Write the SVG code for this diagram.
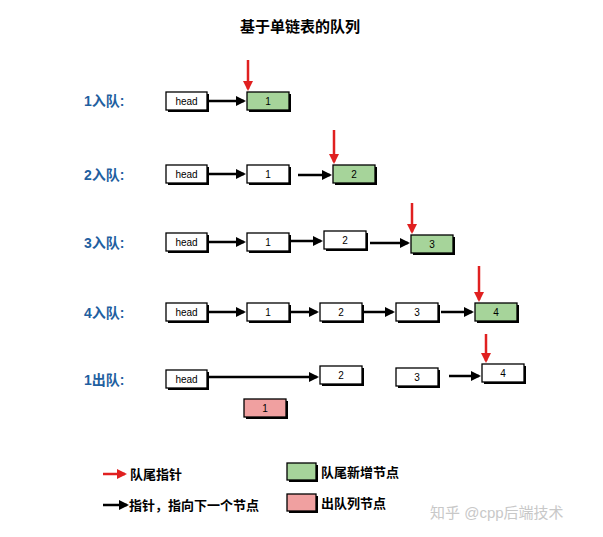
<svg xmlns="http://www.w3.org/2000/svg" width="603" height="537" viewBox="0 0 603 537">
<style>
.t{font-family:"Liberation Sans","Noto Sans CJK SC",sans-serif}
.lbl{font-family:"Liberation Sans","Noto Sans CJK SC",sans-serif;font-weight:bold;font-size:14px;fill:#1f5fa0}
.box rect.s{fill:#000}
.w{fill:#fff;stroke:#000;stroke-width:1.3}
.g{fill:#a6d49a;stroke:#000;stroke-width:1.3}
.p{fill:#f0a0a0;stroke:#000;stroke-width:1.3}
.bt{font-family:"Liberation Sans",sans-serif;font-size:10px;text-anchor:middle;fill:#000}
.ar{stroke:#000;stroke-width:2.5;fill:none;marker-end:url(#mb)}
.rr{stroke:#e02020;stroke-width:2.5;fill:none;marker-end:url(#mr)}
.leg{font-family:"Liberation Sans","Noto Sans CJK SC",sans-serif;font-weight:bold;font-size:13px;fill:#000}
</style>
<defs>
<marker id="mb" markerWidth="4" markerHeight="4" refX="3.2" refY="2" orient="auto"><path d="M0,0 L4,2 L0,4 z" fill="#000"/></marker>
<marker id="mr" markerWidth="4" markerHeight="4" refX="3.2" refY="2" orient="auto"><path d="M0,0 L4,2 L0,4 z" fill="#e02020"/></marker>
</defs>
<rect width="603" height="537" fill="#fff"/>
<text class="t" x="300" y="32" font-size="15" font-weight="bold" text-anchor="middle">基于单链表的队列</text>
<g id="labels">
<text class="lbl" x="84" y="106">1入队:</text>
<text class="lbl" x="84" y="180">2入队:</text>
<text class="lbl" x="84" y="248">3入队:</text>
<text class="lbl" x="84" y="318">4入队:</text>
<text class="lbl" x="84" y="385">1出队:</text>
</g>
<g id="nodes">
<g id="r1-head"><rect x="168" y="94" width="41" height="18" fill="#000"/><rect class="w" x="166" y="92" width="41" height="18"/><text class="bt" x="186.5" y="105">head</text></g>
<g id="r1-n1"><rect x="249" y="94" width="42" height="18" fill="#000"/><rect class="g" x="247" y="92" width="42" height="18"/><text class="bt" x="268" y="105">1</text></g>

<g id="r2-head"><rect x="168" y="167" width="41" height="18" fill="#000"/><rect class="w" x="166" y="165" width="41" height="18"/><text class="bt" x="186.5" y="178">head</text></g>
<g id="r2-n1"><rect x="249" y="167" width="42" height="18" fill="#000"/><rect class="w" x="247" y="165" width="42" height="18"/><text class="bt" x="268" y="178">1</text></g>
<g id="r2-n2"><rect x="335" y="167" width="42" height="18" fill="#000"/><rect class="g" x="333" y="165" width="42" height="18"/><text class="bt" x="354" y="178">2</text></g>

<g id="r3-head"><rect x="168" y="235" width="41" height="18" fill="#000"/><rect class="w" x="166" y="233" width="41" height="18"/><text class="bt" x="186.5" y="246">head</text></g>
<g id="r3-n1"><rect x="249" y="235" width="42" height="18" fill="#000"/><rect class="w" x="247" y="233" width="42" height="18"/><text class="bt" x="268" y="246">1</text></g>
<g id="r3-n2"><rect x="326" y="233" width="42" height="18" fill="#000"/><rect class="w" x="324" y="231" width="42" height="18"/><text class="bt" x="345" y="244">2</text></g>
<g id="r3-n3"><rect x="413" y="237" width="42" height="18" fill="#000"/><rect class="g" x="411" y="235" width="42" height="18"/><text class="bt" x="432" y="248">3</text></g>

<g id="r4-head"><rect x="168" y="305" width="41" height="18" fill="#000"/><rect class="w" x="166" y="303" width="41" height="18"/><text class="bt" x="186.5" y="316">head</text></g>
<g id="r4-n1"><rect x="249" y="305" width="42" height="18" fill="#000"/><rect class="w" x="247" y="303" width="42" height="18"/><text class="bt" x="268" y="316">1</text></g>
<g id="r4-n2"><rect x="322" y="305" width="42" height="18" fill="#000"/><rect class="w" x="320" y="303" width="42" height="18"/><text class="bt" x="341" y="316">2</text></g>
<g id="r4-n3"><rect x="398" y="305" width="42" height="18" fill="#000"/><rect class="w" x="396" y="303" width="42" height="18"/><text class="bt" x="417" y="316">3</text></g>
<g id="r4-n4"><rect x="477" y="305" width="42" height="18" fill="#000"/><rect class="g" x="475" y="303" width="42" height="18"/><text class="bt" x="496" y="316">4</text></g>

<g id="r5-head"><rect x="168" y="372" width="41" height="18" fill="#000"/><rect class="w" x="166" y="370" width="41" height="18"/><text class="bt" x="186.5" y="383">head</text></g>
<g id="r5-n2"><rect x="322" y="368" width="42" height="18" fill="#000"/><rect class="w" x="320" y="366" width="42" height="18"/><text class="bt" x="341" y="379">2</text></g>
<g id="r5-n3"><rect x="398" y="370" width="42" height="18" fill="#000"/><rect class="w" x="396" y="368" width="42" height="18"/><text class="bt" x="417" y="381">3</text></g>
<g id="r5-n4"><rect x="484" y="366" width="42" height="18" fill="#000"/><rect class="w" x="482" y="364" width="42" height="18"/><text class="bt" x="503" y="377">4</text></g>
<g id="r5-n1"><rect x="246" y="401" width="42" height="18" fill="#000"/><rect class="p" x="244" y="399" width="42" height="18"/><text class="bt" x="265" y="412">1</text></g>
</g>
<g id="connectors">
<line class="ar" x1="209" y1="101" x2="244" y2="101"/>
<line class="ar" x1="209" y1="174" x2="244" y2="174"/>
<line class="ar" x1="298" y1="175" x2="330" y2="175"/>
<line class="ar" x1="209" y1="242" x2="244" y2="242"/>
<line class="ar" x1="291" y1="241" x2="321" y2="241"/>
<line class="ar" x1="370" y1="243" x2="408" y2="243"/>
<line class="ar" x1="209" y1="312" x2="244" y2="312"/>
<line class="ar" x1="291" y1="312" x2="317" y2="312"/>
<line class="ar" x1="364" y1="312" x2="393" y2="312"/>
<line class="ar" x1="441" y1="312" x2="472" y2="312"/>
<line class="ar" x1="209" y1="377" x2="317" y2="377"/>
<line class="ar" x1="449" y1="376" x2="479" y2="376"/>
<line class="rr" x1="248" y1="60" x2="248" y2="89"/>
<line class="rr" x1="334" y1="130" x2="334" y2="162"/>
<line class="rr" x1="412" y1="203" x2="412" y2="232"/>
<line class="rr" x1="479" y1="266" x2="479" y2="300"/>
<line class="rr" x1="486" y1="334" x2="486" y2="361"/>
</g>
<g id="legend">
<line class="rr" x1="103" y1="474" x2="125" y2="474"/>
<text class="leg" x="130" y="479">队尾指针</text>
<line class="ar" x1="103" y1="505" x2="127" y2="505"/>
<text class="leg" x="129" y="510">指针，指向下一个节点</text>
<rect x="289" y="465" width="29" height="17" fill="#000"/><rect class="g" x="287" y="463" width="29" height="17"/>
<text class="leg" x="321" y="477">队尾新增节点</text>
<rect x="289" y="496" width="29" height="17" fill="#000"/><rect class="p" x="287" y="494" width="29" height="17"/>
<text class="leg" x="321" y="508">出队列节点</text>
</g>
<text class="t" x="430" y="518" font-size="15" fill="#c8c8c8">知乎 @cpp后端技术</text>
</svg>
